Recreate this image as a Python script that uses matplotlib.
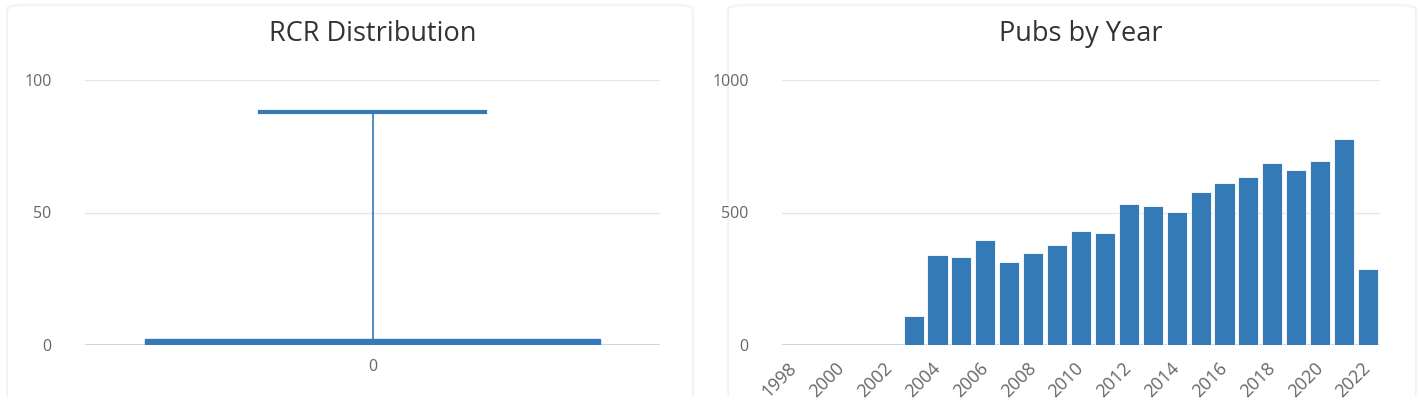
import numpy as np
import matplotlib.pyplot as plt
from matplotlib.patches import FancyBboxPatch

plt.rcParams['font.family'] = ['Open Sans', 'DejaVu Sans']

bar_color = "#337ab7"
grid_color = "#e6e6e6"
axis_color = "#ccd6eb"
text_color = "#666666"
title_color = "#333333"

# RCR distribution summary (box plot)
rcr_labels = ["0"]
rcr_low = 0.0
rcr_q1 = 0.5
rcr_median = 1.2
rcr_q3 = 2.2
rcr_high = 88.0

# publications per year
years = list(range(1998, 2023))
pubs = [0, 0, 0, 0, 0, 111, 338, 332, 395, 315, 348, 377, 429, 422,
        531, 525, 502, 576, 610, 633, 685, 662, 696, 776, 288]

fig = plt.figure(figsize=(14.21, 4), dpi=100)
W, H = 1421, 400

# cards with a soft shadow
for x0, x1 in [(8, 692), (729, 1415)]:
    for k, a in [(3, 0.012), (2, 0.018), (1, 0.025)]:
        fig.patches.append(FancyBboxPatch(((x0 - k) / W, 0), (x1 - x0 + 2 * k) / W, (394 + k) / H,
                                          boxstyle="round,pad=0,rounding_size=0.012",
                                          transform=fig.transFigure, facecolor="black",
                                          edgecolor="none", alpha=a, zorder=-3))
    fig.patches.append(FancyBboxPatch((x0 / W, -0.05), (x1 - x0) / W, 394 / H + 0.05,
                                      boxstyle="round,pad=0,rounding_size=0.012",
                                      transform=fig.transFigure, facecolor="white",
                                      edgecolor="none", zorder=-2))


def style_axes(ax):
    ax.set_facecolor("none")
    for s in ax.spines.values():
        s.set_visible(False)
    ax.grid(axis="y", color=grid_color, linewidth=1)
    ax.set_axisbelow(True)
    ax.tick_params(axis="both", length=0, colors=text_color, labelsize=11.5)
    ax.axhline(0, color=axis_color, linewidth=1.5, zorder=1)


# left: RCR distribution
ax1 = fig.add_axes([85 / W, 1 - 345 / H, (660 - 85) / W, (345 - 80) / H])
style_axes(ax1)
stats = [dict(whislo=rcr_low, q1=rcr_q1, med=rcr_median, q3=rcr_q3, whishi=rcr_high, fliers=[])]
ax1.bxp(stats, positions=[0], widths=0.79, patch_artist=True, showfliers=False,
        boxprops=dict(facecolor=bar_color, edgecolor=bar_color, linewidth=1),
        medianprops=dict(color=bar_color, linewidth=2),
        whiskerprops=dict(color=bar_color, linewidth=1.2),
        capprops=dict(color=bar_color, linewidth=3),
        capwidths=0.39)
ax1.set_xlim(-0.5, 0.5)
ax1.set_ylim(0, 100)
ax1.set_yticks([0, 50, 100])
ax1.set_xticks([0])
ax1.set_xticklabels(rcr_labels)
ax1.tick_params(axis="x", pad=10)
ax1.tick_params(axis="y", pad=24)
ax1.set_title("RCR Distribution", fontsize=19.5, color=title_color, pad=28)

# right: pubs by year
ax2 = fig.add_axes([782 / W, 1 - 345 / H, (1380 - 782) / W, (345 - 80) / H])
style_axes(ax2)
x = np.arange(len(years))
ax2.bar(x, pubs, width=0.84, color=bar_color, edgecolor="white", linewidth=0.6, zorder=2)
ax2.set_xlim(-0.5, len(years) - 0.5)
ax2.set_ylim(0, 1000)
ax2.set_yticks([0, 500, 1000])
ax2.set_xticks(x[::2])
ax2.set_xticklabels([str(y) for y in years[::2]], rotation=45, ha="right",
                    va="center", rotation_mode="anchor", fontsize=13)
ax2.tick_params(axis="x", pad=15)
ax2.tick_params(axis="y", pad=24)
ax2.set_title("Pubs by Year", fontsize=19.5, color=title_color, pad=28)

fig.savefig("out.png", dpi=100, facecolor="white")
